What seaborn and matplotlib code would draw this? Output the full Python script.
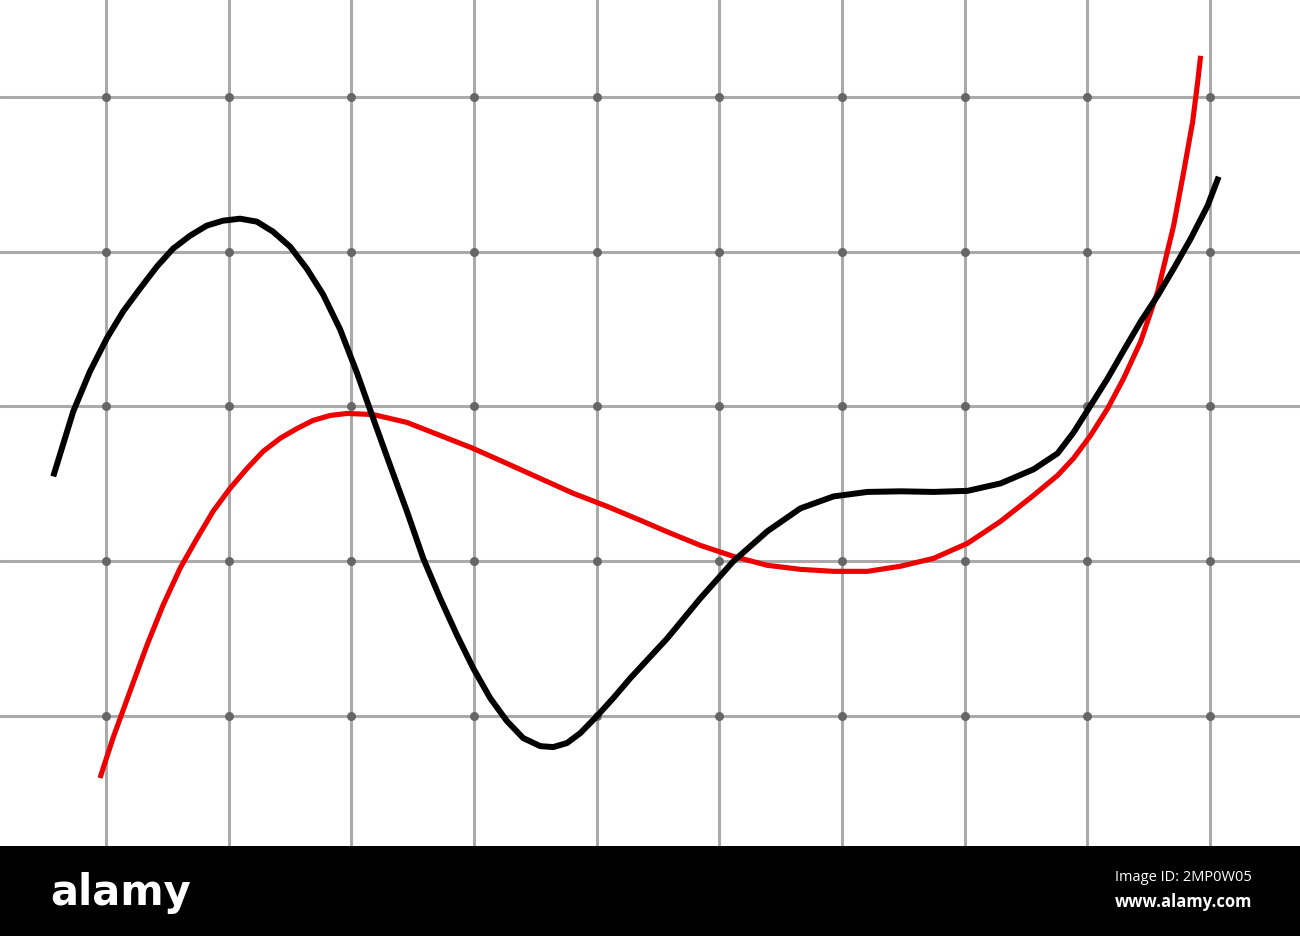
import numpy as np
import pandas as pd
import matplotlib
matplotlib.use("Agg")
import matplotlib.pyplot as plt
import seaborn as sns

# grid positions
grid_x = [1, 2, 3, 4, 5, 6, 7, 8, 9, 10]
grid_y = [1, 2, 3, 4, 5]

# black curve (grid units)
black_x = [0.570, 0.733, 0.869, 1.006, 1.139, 1.277, 1.414, 1.546, 1.685, 1.821,
           1.954, 2.093, 2.229, 2.362, 2.501, 2.637, 2.770, 2.909, 3.045, 3.178,
           3.316, 3.453, 3.586, 3.724, 3.861, 3.993, 4.132, 4.268, 4.401, 4.540,
           4.646, 4.758, 4.866, 5.002, 5.135, 5.274, 5.576, 5.845, 6.114, 6.391,
           6.661, 6.930, 7.207, 7.476, 7.746, 8.023, 8.292, 8.561, 8.757, 8.887,
           9.026, 9.165, 9.295, 9.434, 9.573, 9.703, 9.842, 9.980, 10.070]
black_y = [2.548, 2.968, 3.226, 3.439, 3.613, 3.761, 3.903, 4.019, 4.103, 4.168,
           4.200, 4.213, 4.194, 4.129, 4.032, 3.890, 3.723, 3.497, 3.219, 2.923,
           2.619, 2.323, 2.019, 1.761, 1.523, 1.310, 1.116, 0.968, 0.858, 0.806,
           0.800, 0.826, 0.890, 1.0, 1.116, 1.245, 1.503, 1.761, 2.0, 2.194,
           2.342, 2.419, 2.448, 2.452, 2.448, 2.455, 2.503, 2.594, 2.697, 2.832,
           3.006, 3.181, 3.361, 3.548, 3.716, 3.890, 4.084, 4.297, 4.484]

# red curve (grid units)
red_x = [0.951, 1.057, 1.196, 1.334, 1.465, 1.604, 1.742, 1.873, 2.011, 2.150,
         2.281, 2.419, 2.558, 2.688, 2.827, 2.966, 3.178, 3.453, 3.724, 3.993,
         4.268, 4.540, 4.809, 5.084, 5.356, 5.576, 5.845, 6.114, 6.391, 6.661,
         6.930, 7.207, 7.476, 7.746, 8.023, 8.292, 8.561, 8.757, 8.887, 9.026,
         9.165, 9.295, 9.434, 9.573, 9.703, 9.785, 9.858, 9.899, 9.923]
red_y = [0.6, 0.858, 1.161, 1.458, 1.716, 1.955, 2.148, 2.323, 2.471, 2.600,
         2.710, 2.794, 2.858, 2.910, 2.942, 2.955, 2.948, 2.897, 2.813, 2.729,
         2.632, 2.535, 2.439, 2.355, 2.265, 2.190, 2.103, 2.032, 1.974, 1.948,
         1.935, 1.935, 1.968, 2.019, 2.116, 2.258, 2.426, 2.555, 2.665, 2.813,
         2.987, 3.181, 3.419, 3.742, 4.168, 4.516, 4.839, 5.097, 5.265]

sns.set_theme(style="white")

fig = plt.figure(figsize=(13, 9.37), dpi=100)
fig.patch.set_facecolor("black")
ax = fig.add_axes([0, 90 / 937, 1, 847 / 937])
ax.set_facecolor("white")

ax.set_xlim(0.136, 10.733)
ax.set_ylim(0.161, 5.632)
ax.set_xticks(grid_x)
ax.set_yticks(grid_y)
ax.tick_params(left=False, bottom=False, labelleft=False, labelbottom=False)
ax.grid(True, color="#aaaaaa", linewidth=2.2, zorder=0)
ax.set_axisbelow(True)
for s in ax.spines.values():
    s.set_visible(False)

gx, gy = np.meshgrid(grid_x, grid_y)
dots = pd.DataFrame({"x": gx.ravel(), "y": gy.ravel()})
sns.scatterplot(data=dots, x="x", y="y", ax=ax, color="#666666", s=42,
                linewidth=0, zorder=2)

sns.lineplot(x=red_x, y=red_y, ax=ax, color="#ee0000", linewidth=3.7,
             sort=False, estimator=None, zorder=3,
             solid_joinstyle="round", solid_capstyle="butt")
sns.lineplot(x=black_x, y=black_y, ax=ax, color="black", linewidth=4.3,
             sort=False, estimator=None, zorder=4,
             solid_joinstyle="round", solid_capstyle="butt")
ax.set_xlabel("")
ax.set_ylabel("")

fig.text(50 / 1300, 1 - 893 / 937, "alamy", color="white", fontsize=30,
         fontweight="bold", family=["DejaVu Sans"], va="center", ha="left")
fig.text(1115 / 1300, 1 - 878 / 937, "Image ID: 2MP0W05", color="white",
         fontsize=10.5, family=["Open Sans", "DejaVu Sans"], va="center", ha="left")
fig.text(1115 / 1300, 1 - 902 / 937, "www.alamy.com", color="white",
         fontsize=12, fontweight="bold", family=["Open Sans", "DejaVu Sans"],
         va="center", ha="left")

fig.savefig("out.png", dpi=100, facecolor="black")
